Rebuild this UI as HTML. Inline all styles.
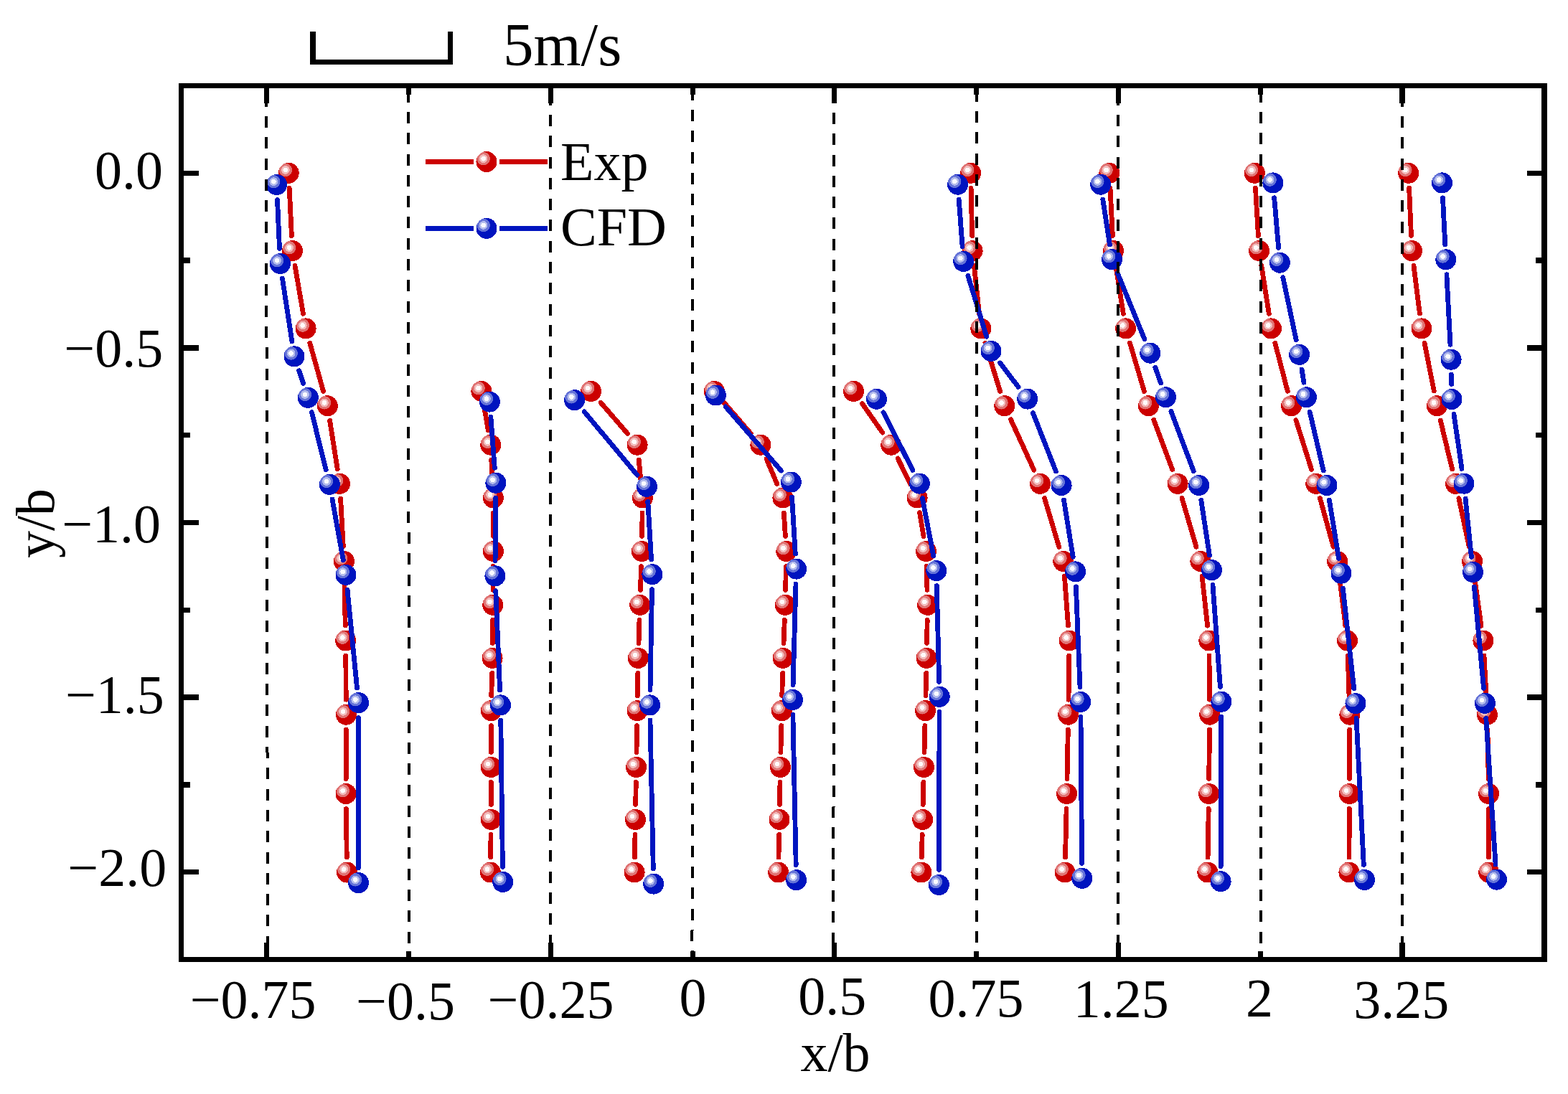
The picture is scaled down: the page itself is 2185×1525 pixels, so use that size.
<!DOCTYPE html>
<html><head><meta charset="utf-8"><title>Velocity profiles</title>
<style>html,body{margin:0;padding:0;background:#fff;}body{width:2185px;height:1525px;overflow:hidden;}svg{display:block;}</style>
</head><body>
<svg width="2185" height="1525" viewBox="0 0 2185 1525">
<defs>
<radialGradient id="gr" cx="0.35" cy="0.35" r="0.32" fx="0.35" fy="0.35">
<stop offset="0" stop-color="#fffafa"/><stop offset="0.36" stop-color="#fffafa"/>
<stop offset="0.37" stop-color="#f2bcbc"/><stop offset="0.62" stop-color="#f2bcbc"/>
<stop offset="0.63" stop-color="#e07474"/><stop offset="0.97" stop-color="#e07474"/>
<stop offset="1" stop-color="#cc0000"/></radialGradient>
<radialGradient id="gb" cx="0.35" cy="0.35" r="0.32" fx="0.35" fy="0.35">
<stop offset="0" stop-color="#fafaff"/><stop offset="0.36" stop-color="#fafaff"/>
<stop offset="0.37" stop-color="#b4bcec"/><stop offset="0.62" stop-color="#b4bcec"/>
<stop offset="0.63" stop-color="#6674d8"/><stop offset="0.97" stop-color="#6674d8"/>
<stop offset="1" stop-color="#0014bf"/></radialGradient>
<g id="mr"><circle r="14.5" fill="#cc0000"/><circle r="14.5" fill="url(#gr)"/></g>
<g id="mb"><circle r="14.5" fill="#0014bf"/><circle r="14.5" fill="url(#gb)"/></g>
</defs>
<rect width="2185" height="1525" fill="#fff"/>
<g fill="none" stroke-linecap="round" stroke-width="6.8" shape-rendering="crispEdges">
<path stroke="#cc0000" d="M403.2 262.3L406.4 328.6M411 370.3L422.5 437.2M431.8 478.1L450.6 545.5M459.6 586.4L470.2 653.6M474.6 695.3L478.3 761.5M479.8 803.5L481.2 872M481.8 914L482.2 975.2M482.3 1017.2L482.2 1085.5M482.4 1127.5L483.2 1195M674.5 566.1L680.2 599.5M684.8 641.2L686.4 673M687.4 715L687.4 747.5M687.2 789.5L687 822.3M686.6 864.3L686.3 896.4M685.6 938.4L684.8 969.7M684.3 1011.7L684.3 1048.4M684.3 1090.4L684.3 1121.4M684 1163.4L683.7 1195M837.2 561.3L874.4 604.3M890.2 641.1L893.3 673.1M895.1 715L894.6 747.5M893.6 789.5L892.4 822.3M891 864.3L890 896.4M888.9 938.4L888.4 969.7M887.6 1011.7L887 1048.4M886.3 1090.4L885.7 1121.4M885 1163.4L884.5 1195M1009 561.3L1046.2 604.3M1068 639.6L1082.8 674.6M1092.3 715L1094.4 747.5M1095.4 789.5L1094.6 822.3M1093.3 864.3L1092 896.4M1090.6 938.4L1089.8 969.7M1088.8 1011.7L1087.9 1048.4M1087 1090.4L1086.4 1121.4M1085.6 1163.4L1085 1195M1201.5 562.6L1229.8 603M1251.1 639L1268.8 675.2M1281.6 714.7L1287.1 747.8M1291.2 789.5L1292 822.3M1292.2 864.3L1291.5 896.4M1290.6 938.4L1290 969.7M1288.9 1011.7L1288 1048.4M1286.9 1090.4L1286.2 1121.4M1285.2 1163.4L1284.3 1195M1353.1 262.3L1354.6 328.6M1357.4 370.5L1364.5 437M1372.9 478L1393.7 545.6M1408.5 584.8L1440.8 655.2M1455.5 694.4L1475.8 762.4M1483.4 803.4L1488.5 872.1M1489.8 914L1489 975.2M1488.3 1017.2L1487 1085.5M1486.1 1127.5L1484.5 1195M1547 262.3L1550.4 328.6M1554.8 370.3L1565.3 437.2M1574.5 478L1594.5 545.6M1607.8 585.4L1633.7 654.6M1647 694.4L1667 762.4M1675.1 803.4L1682.6 872.1M1685 914L1685.5 975.2M1685.5 1017.2L1684.7 1085.5M1684.2 1127.5L1683.1 1195M1749.5 262.3L1753.4 328.6M1757.8 370.3L1768.3 437.2M1776.8 478.2L1794.3 545.4M1805.9 585.7L1827.5 654.3M1839.4 694.5L1858.1 762.3M1866.3 803.3L1874.9 872.2M1878.2 914L1880.2 975.2M1880.8 1017.2L1880.5 1085.5M1880.3 1127.5L1880 1195M1963.6 262.3L1966.5 328.6M1970 370.4L1978.4 437.1M1985.1 478.5L1998.3 545.1M2007.3 586.1L2023.6 653.9M2032.9 694.8L2047.2 762M2054.5 803.3L2064 872.2M2068 914L2071.4 975.2M2072.9 1017.2L2074.2 1085.5M2074.6 1127.5L2074.6 1195"/>
</g>
<g shape-rendering="crispEdges"><use href="#mr" x="402.2" y="241.3"/><use href="#mr" x="407.4" y="349.6"/><use href="#mr" x="426.1" y="457.9"/><use href="#mr" x="456.3" y="565.7"/><use href="#mr" x="473.5" y="674.3"/><use href="#mr" x="479.4" y="782.5"/><use href="#mr" x="481.6" y="893"/><use href="#mr" x="482.4" y="996.2"/><use href="#mr" x="482.1" y="1106.5"/><use href="#mr" x="483.5" y="1216"/><use href="#mr" x="670.9" y="545.4"/><use href="#mr" x="683.8" y="620.2"/><use href="#mr" x="687.4" y="694"/><use href="#mr" x="687.4" y="768.5"/><use href="#mr" x="686.8" y="843.3"/><use href="#mr" x="686.1" y="917.4"/><use href="#mr" x="684.3" y="990.7"/><use href="#mr" x="684.3" y="1069.4"/><use href="#mr" x="684.3" y="1142.4"/><use href="#mr" x="683.4" y="1216"/><use href="#mr" x="823.5" y="545.4"/><use href="#mr" x="888.1" y="620.2"/><use href="#mr" x="895.4" y="694"/><use href="#mr" x="894.3" y="768.5"/><use href="#mr" x="891.7" y="843.3"/><use href="#mr" x="889.3" y="917.4"/><use href="#mr" x="888" y="990.7"/><use href="#mr" x="886.6" y="1069.4"/><use href="#mr" x="885.4" y="1142.4"/><use href="#mr" x="884.1" y="1216"/><use href="#mr" x="995.3" y="545.4"/><use href="#mr" x="1059.9" y="620.2"/><use href="#mr" x="1090.9" y="694"/><use href="#mr" x="1095.8" y="768.5"/><use href="#mr" x="1094.2" y="843.3"/><use href="#mr" x="1091.1" y="917.4"/><use href="#mr" x="1089.3" y="990.7"/><use href="#mr" x="1087.4" y="1069.4"/><use href="#mr" x="1086" y="1142.4"/><use href="#mr" x="1084.6" y="1216"/><use href="#mr" x="1189.5" y="545.4"/><use href="#mr" x="1241.8" y="620.2"/><use href="#mr" x="1278.1" y="694"/><use href="#mr" x="1290.6" y="768.5"/><use href="#mr" x="1292.6" y="843.3"/><use href="#mr" x="1291.1" y="917.4"/><use href="#mr" x="1289.5" y="990.7"/><use href="#mr" x="1287.4" y="1069.4"/><use href="#mr" x="1285.7" y="1142.4"/><use href="#mr" x="1283.8" y="1216"/><use href="#mr" x="1352.6" y="241.3"/><use href="#mr" x="1355.1" y="349.6"/><use href="#mr" x="1366.8" y="457.9"/><use href="#mr" x="1399.8" y="565.7"/><use href="#mr" x="1449.5" y="674.3"/><use href="#mr" x="1481.8" y="782.5"/><use href="#mr" x="1490.1" y="893"/><use href="#mr" x="1488.7" y="996.2"/><use href="#mr" x="1486.6" y="1106.5"/><use href="#mr" x="1484" y="1216"/><use href="#mr" x="1545.9" y="241.3"/><use href="#mr" x="1551.5" y="349.6"/><use href="#mr" x="1568.6" y="457.9"/><use href="#mr" x="1600.4" y="565.7"/><use href="#mr" x="1641.1" y="674.3"/><use href="#mr" x="1672.9" y="782.5"/><use href="#mr" x="1684.8" y="893"/><use href="#mr" x="1685.7" y="996.2"/><use href="#mr" x="1684.5" y="1106.5"/><use href="#mr" x="1682.8" y="1216"/><use href="#mr" x="1748.3" y="241.3"/><use href="#mr" x="1754.6" y="349.6"/><use href="#mr" x="1771.5" y="457.9"/><use href="#mr" x="1799.6" y="565.7"/><use href="#mr" x="1833.8" y="674.3"/><use href="#mr" x="1863.7" y="782.5"/><use href="#mr" x="1877.5" y="893"/><use href="#mr" x="1880.9" y="996.2"/><use href="#mr" x="1880.4" y="1106.5"/><use href="#mr" x="1879.9" y="1216"/><use href="#mr" x="1962.7" y="241.3"/><use href="#mr" x="1967.4" y="349.6"/><use href="#mr" x="1981" y="457.9"/><use href="#mr" x="2002.4" y="565.7"/><use href="#mr" x="2028.5" y="674.3"/><use href="#mr" x="2051.6" y="782.5"/><use href="#mr" x="2066.9" y="893"/><use href="#mr" x="2072.5" y="996.2"/><use href="#mr" x="2074.6" y="1106.5"/><use href="#mr" x="2074.6" y="1216"/></g>
<g fill="none" stroke-linecap="round" stroke-width="6.8" shape-rendering="crispEdges">
<path stroke="#0014bf" d="M386.5 278.5L389.5 346.5M393.5 388.3L406.9 476M416.7 516.7L422.6 534.4M434.4 574.7L454.2 654.9M463 696L478.3 780.7M484.1 822.3L497.5 958.7M499.6 1000.6L499.5 1209.7M683.9 581L689.3 652.3M690.7 694.2L690.1 781.8M690.8 823.8L696.6 961.9M697.8 1003.9L700.4 1208.4M814.1 573.8L888 662.2M902.8 699.3L907.6 779.7M908.5 821.7L906 961.9M906 1003.9L910.3 1211.1M1011.1 566.9L1088.5 656.1M1103.6 693L1108.3 772.1M1109 814.1L1105.1 954.4M1104.9 996.4L1109.2 1205.7M1231 574.9L1271.9 655.4M1285.4 694.7L1300.8 775M1305.3 816.6L1308.7 950.3M1309.1 992.3L1308.4 1212.5M1336.2 278.1L1341.1 343.5M1348.9 384.5L1374.8 469.2M1393.7 506L1419 539.4M1439.4 575.6L1471.4 657M1482.5 697.2L1495.2 776.2M1499.4 817.9L1505 957.5M1506 999.5L1507.6 1203.3M1536.8 278L1546.4 340.8M1557.4 381L1594.9 472.8M1609.8 512L1617.5 534M1631.9 573.5L1663.3 656.8M1673.8 697.3L1685.4 773.9M1690 815.6L1700.4 957.3M1701.8 999.2L1701.2 1207.7M1775.7 275.8L1781.6 345.3M1787.8 386.7L1806.2 473.8M1814 515L1817 533.1M1825.2 574.3L1844.2 656M1852.4 697.2L1865.6 778.5M1871.3 820.1L1886.7 959.7M1890.1 1001.6L1900.3 1205.4M2010.5 275.9L2013.8 340.8M2015.9 382.8L2021 480.2M2022.4 522.2L2022.7 535.5M2026 577.3L2037 653.4M2042.1 695.1L2050.4 776.5M2054.4 818.3L2067.5 959.4M2070.8 1001.3L2084.1 1205.1"/>
</g>
<g shape-rendering="crispEdges"><use href="#mb" x="385.6" y="257.5"/><use href="#mb" x="390.4" y="367.5"/><use href="#mb" x="410" y="496.8"/><use href="#mb" x="429.3" y="554.3"/><use href="#mb" x="459.3" y="675.3"/><use href="#mb" x="482" y="801.4"/><use href="#mb" x="499.6" y="979.6"/><use href="#mb" x="499.5" y="1230.7"/><use href="#mb" x="682.3" y="560.1"/><use href="#mb" x="690.9" y="673.2"/><use href="#mb" x="689.9" y="802.8"/><use href="#mb" x="697.5" y="982.9"/><use href="#mb" x="700.7" y="1229.4"/><use href="#mb" x="800.6" y="557.7"/><use href="#mb" x="901.5" y="678.3"/><use href="#mb" x="908.9" y="800.7"/><use href="#mb" x="905.6" y="982.9"/><use href="#mb" x="910.7" y="1232.1"/><use href="#mb" x="997.3" y="551"/><use href="#mb" x="1102.3" y="672"/><use href="#mb" x="1109.6" y="793.1"/><use href="#mb" x="1104.5" y="975.4"/><use href="#mb" x="1109.6" y="1226.7"/><use href="#mb" x="1221.5" y="556.2"/><use href="#mb" x="1281.4" y="674.1"/><use href="#mb" x="1304.8" y="795.6"/><use href="#mb" x="1309.2" y="971.3"/><use href="#mb" x="1308.3" y="1233.5"/><use href="#mb" x="1334.6" y="257.2"/><use href="#mb" x="1342.7" y="364.4"/><use href="#mb" x="1381" y="489.3"/><use href="#mb" x="1431.7" y="556.1"/><use href="#mb" x="1479.1" y="676.5"/><use href="#mb" x="1498.6" y="796.9"/><use href="#mb" x="1505.8" y="978.5"/><use href="#mb" x="1507.8" y="1224.3"/><use href="#mb" x="1533.7" y="257.2"/><use href="#mb" x="1549.5" y="361.6"/><use href="#mb" x="1602.8" y="492.2"/><use href="#mb" x="1624.5" y="553.8"/><use href="#mb" x="1670.7" y="676.5"/><use href="#mb" x="1688.5" y="794.7"/><use href="#mb" x="1701.9" y="978.2"/><use href="#mb" x="1701.1" y="1228.7"/><use href="#mb" x="1773.9" y="254.9"/><use href="#mb" x="1783.4" y="366.2"/><use href="#mb" x="1810.6" y="494.3"/><use href="#mb" x="1820.4" y="553.8"/><use href="#mb" x="1849" y="676.5"/><use href="#mb" x="1869" y="799.2"/><use href="#mb" x="1889" y="980.6"/><use href="#mb" x="1901.4" y="1226.4"/><use href="#mb" x="2009.5" y="254.9"/><use href="#mb" x="2014.8" y="361.8"/><use href="#mb" x="2022.1" y="501.2"/><use href="#mb" x="2023" y="556.5"/><use href="#mb" x="2040" y="674.2"/><use href="#mb" x="2052.5" y="797.4"/><use href="#mb" x="2069.4" y="980.3"/><use href="#mb" x="2085.5" y="1226.1"/></g>
<g stroke="#000" stroke-width="4" stroke-dasharray="16 13.3" shape-rendering="crispEdges"><line x1="370.9" y1="132.8" x2="373" y2="1334"/><line x1="569" y1="126.7" x2="570" y2="1334"/><line x1="766.5" y1="130.7" x2="767" y2="1334"/><line x1="965" y1="123.9" x2="964.5" y2="1334"/><line x1="1162.1" y1="127.7" x2="1161.4" y2="1334"/><line x1="1361.2" y1="125.9" x2="1361.5" y2="1334"/><line x1="1558" y1="130.7" x2="1558.5" y2="1334"/><line x1="1757" y1="126.7" x2="1757.5" y2="1334"/><line x1="1954" y1="132.8" x2="1954.5" y2="1334"/></g>
<g fill="none" stroke="#000" stroke-width="7.5" shape-rendering="crispEdges">
<path d="M371.5 123v21M371.5 1334v-20M569.5 123v9M569.5 1334v-8M767.5 123v21M767.5 1334v-20M965.5 123v9M965.5 1334v-8M1162.5 123v21M1162.5 1334v-20M1360.5 123v9M1360.5 1334v-8M1558.5 123v21M1558.5 1334v-20M1756.5 123v9M1756.5 1334v-8M1954 123v21M1954 1334v-20M256 241.3h21M2148 241.3h-20.5M256 363.1h9M2148 363.1h-8M256 484.9h21M2148 484.9h-20.5M256 606.7h9M2148 606.7h-8M256 728.5h21M2148 728.5h-20.5M256 850.3h9M2148 850.3h-8M256 972.1h21M2148 972.1h-20.5M256 1093.9h9M2148 1093.9h-8M256 1215.7h21M2148 1215.7h-20.5"/>
<rect x="252.5" y="119.5" width="1899.5" height="1218"/>
<path d="M436 43.5V86.5H627.5V43.5"/>
</g>
<g stroke-width="7" shape-rendering="crispEdges">
<path stroke="#cc0000" d="M593 225.5H660M696 225.5H763"/>
<path stroke="#0014bf" d="M593 318.4H660M696 318.4H763"/>
</g>
<g shape-rendering="crispEdges"><use href="#mr" x="678" y="225.5"/><use href="#mb" x="678" y="318.3"/></g>
<g font-family="'Liberation Serif', 'Times New Roman', serif" font-size="76" fill="#000">
<text x="781.1" y="251.2">Exp</text>
<text x="781" y="342.4">CFD</text>
<text x="701" y="90.5" font-size="85">5m/s</text>
<text x="226.9" y="262.6" text-anchor="end">0.0</text>
<text x="227.2" y="510.5" text-anchor="end">&#8722;0.5</text>
<text x="224" y="755.5" text-anchor="end">&#8722;1.0</text>
<text x="228.8" y="993.5" text-anchor="end">&#8722;1.5</text>
<text x="232.2" y="1235.3" text-anchor="end">&#8722;2.0</text>
<text x="352.7" y="1419.4" text-anchor="middle">&#8722;0.75</text>
<text x="565" y="1420.5" text-anchor="middle">&#8722;0.5</text>
<text x="767.5" y="1419.4" text-anchor="middle">&#8722;0.25</text>
<text x="965.6" y="1415.6" text-anchor="middle">0</text>
<text x="1159.85" y="1414.2" text-anchor="middle">0.5</text>
<text x="1360.1" y="1416.5" text-anchor="middle">0.75</text>
<text x="1562.35" y="1418.3" text-anchor="middle">1.25</text>
<text x="1755" y="1416.6" text-anchor="middle">2</text>
<text x="1952.8" y="1418.6" text-anchor="middle">3.25</text>
<text x="1164" y="1493.1" text-anchor="middle">x/b</text>
<text transform="translate(75 729.5) rotate(-90)" text-anchor="middle">y/b</text>
</g>
</svg>
</body></html>
